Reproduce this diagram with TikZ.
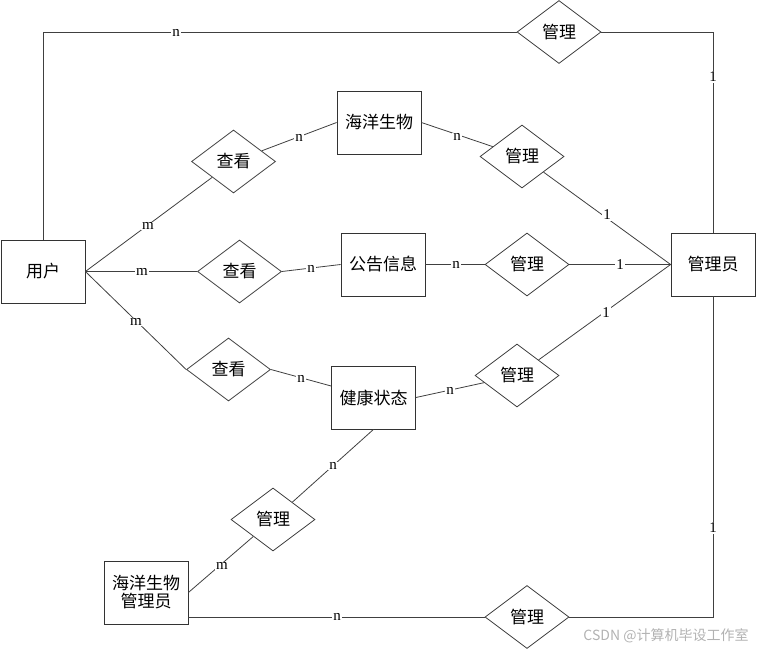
\documentclass[tikz,border=0pt]{standalone}
\usepackage{fontspec}
\setmainfont{Liberation Serif}
\newfontfamily\cjk{Noto Sans CJK SC}
\usetikzlibrary{shapes.geometric}
\begin{document}
\begin{tikzpicture}[x=1pt,y=-1pt,
  line width=0.8pt,
  every node/.style={font=\cjk\fontsize{17}{19}\selectfont},
  ent/.style={draw=black!80,rectangle,minimum width=84pt,minimum height=63pt,inner sep=0pt,align=center},
  rel/.style={draw=black!75,diamond,minimum width=84pt,minimum height=63pt,inner sep=0pt},
  conn/.style={draw=black!75},
  lbl/.style={fill=white,inner sep=0.8pt,font=\fontsize{15}{15}\selectfont}]
\useasboundingbox (0,0) rectangle (759,650);
% entities
\node[ent] (user) at (43,271.5) {用户};
\node[ent] (admin) at (713,264.5) {管理员};
\node[ent] (ocean) at (379,122.5) {海洋生物};
\node[ent] (notice) at (383,264.5) {公告信息};
\node[ent] (health) at (373.5,397.5) {健康状态};
\node[ent] (oadmin) at (146,592.5) {海洋生物\\[-1pt]管理员};
% relations
\node[rel] (mt) at (559,32) {管理};
\node[rel] (v1) at (233.5,161.5) {查看};
\node[rel] (m1) at (522,156.5) {管理};
\node[rel] (v2) at (239.5,271.5) {查看};
\node[rel] (m2) at (527,264.5) {管理};
\node[rel] (v3) at (228.5,369.5) {查看};
\node[rel] (m3) at (517,375.5) {管理};
\node[rel] (m4) at (273,519.5) {管理};
\node[rel] (m5) at (527,617) {管理};
% connectors
\draw[conn] (user.north) |- (mt.west);
\draw[conn] (mt.east) -| (admin.north);
\draw[conn] (user.east) -- (v1);
\draw[conn] (v1) -- (ocean.west);
\draw[conn] (user.east) -- (v2.west);
\draw[conn] (v2.east) -- (notice.west);
\draw[conn] (user.east) -- (v3.west);
\draw[conn] (v3.east) -- ([yshift=11.5pt]health.west);
\draw[conn] (ocean.east) -- (m1);
\draw[conn] (m1) -- (admin.west);
\draw[conn] (notice.east) -- (m2.west);
\draw[conn] (m2.east) -- (admin.west);
\draw[conn] (health.east) -- (m3);
\draw[conn] (m3) -- (admin.west);
\draw[conn] (health.south) -- (m4);
\draw[conn] (m4) -- (oadmin.east);
\draw[conn] (oadmin.east |- m5) -- (m5.west);
\draw[conn] (m5.east) -| (admin.south);
% cardinality labels
\node[lbl] (l1) at (176,33) {n};
\node[lbl] (l2) at (713,77) {1};
\node[lbl] (l3) at (148,226) {m};
\node[lbl] (l4) at (299,138) {n};
\node[lbl] (l5) at (142,271.5) {m};
\node[lbl] (l6) at (311,268.5) {n};
\node[lbl] (l7) at (136,322) {m};
\node[lbl] (l8) at (301,378.5) {n};
\node[lbl] (l9) at (457,137) {n};
\node[lbl] (l10) at (607,215) {1};
\node[lbl] (l11) at (456,264.5) {n};
\node[lbl] (l12) at (620,264.5) {1};
\node[lbl] (l13) at (450,390.5) {n};
\node[lbl] (l14) at (606,313) {1};
\node[lbl] (l15) at (333,466) {n};
\node[lbl] (l16) at (222,566) {m};
\node[lbl] (l17) at (337,617) {n};
\node[lbl] (l18) at (713,528) {1};
% watermark
\node[text=black!30,font=\cjk\fontsize{14}{14}\selectfont] (wm) at (666,636) {CSDN @计算机毕设工作室};
\end{tikzpicture}
\end{document}
